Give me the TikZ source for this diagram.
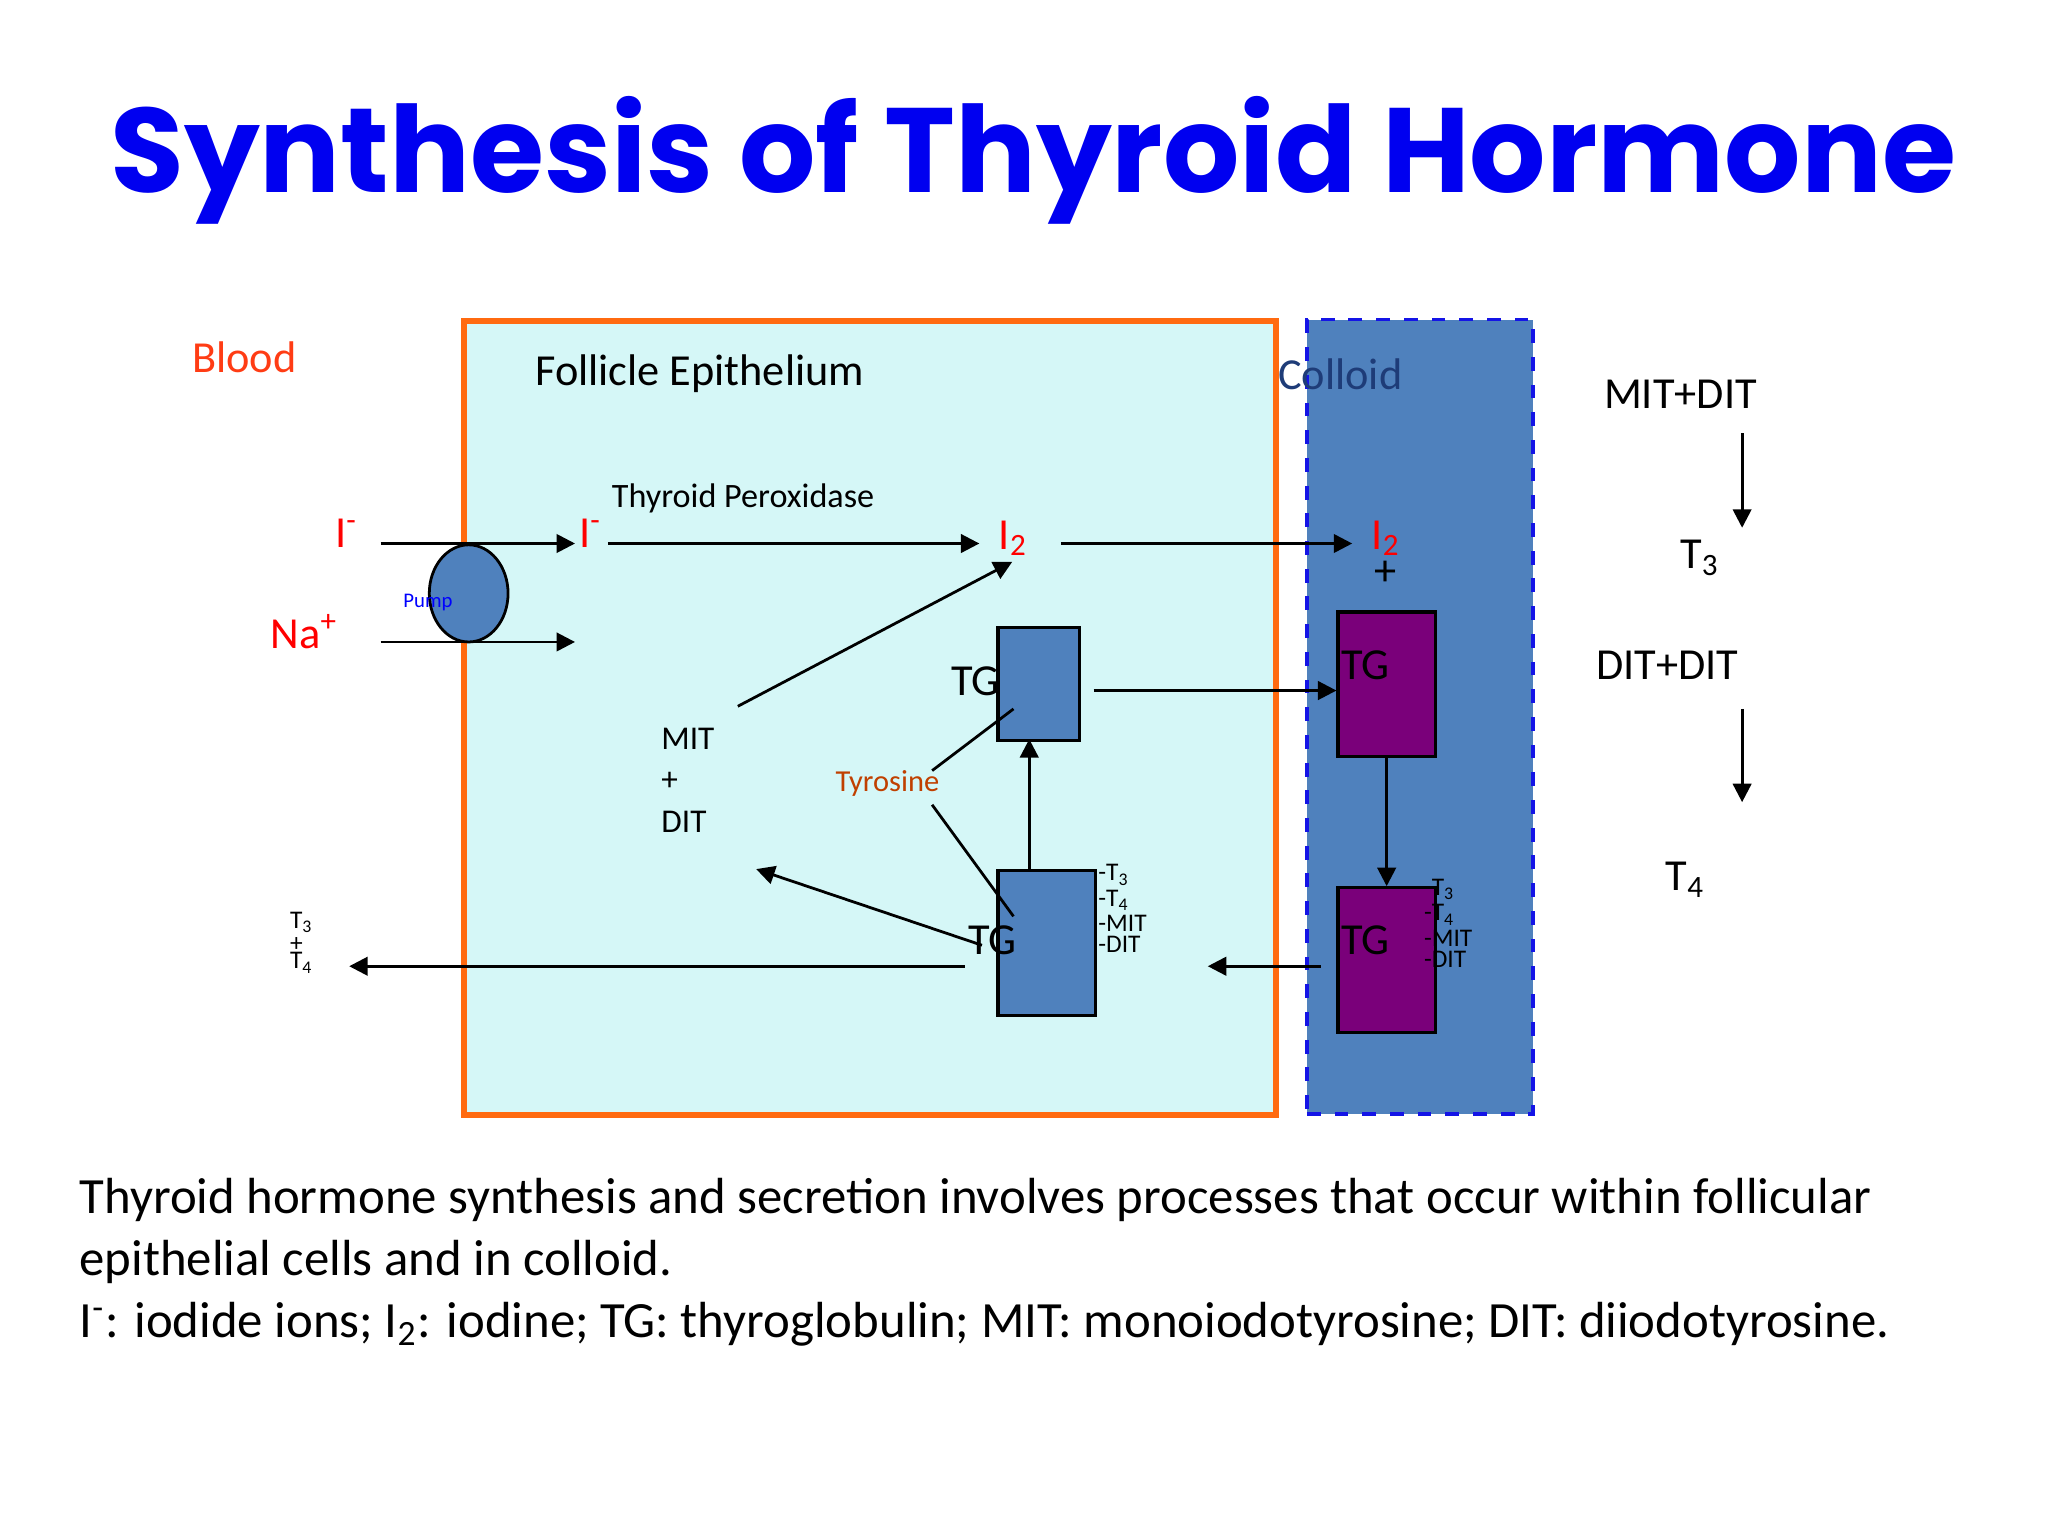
\documentclass[tikz,border=0pt]{standalone}
\usepackage{fontspec}
\setmainfont{Carlito}
\newfontfamily\titlefont{Poppins}
\usetikzlibrary{arrows.meta}
\begin{document}
\begin{tikzpicture}[x=0.01cm,y=-0.01cm,
  lbl/.style={inner sep=0pt,font=\fontsize{9.6}{11}\selectfont},
  red/.style={lbl,text=red},
  arr/.style={-{Triangle[length=4pt,width=4pt]},line width=0.6pt},
  ln/.style={line width=0.6pt},
  bbox/.style={draw,line width=0.7pt,fill={rgb,255:red,79;green,129;blue,189},anchor=north west,inner sep=0pt},
  pbox/.style={draw,line width=0.7pt,fill={rgb,255:red,122;green,0;blue,122},anchor=north west,inner sep=0pt},
  tiny/.style={inner sep=0pt,align=left,font=\fontsize{5.5}{3.2}\selectfont}]
\useasboundingbox (0,0) rectangle (1560,1170);
\fill[white] (0,0) rectangle (1560,1170);
\node[inner sep=0pt,font=\titlefont\bfseries\fontsize{26}{30}\selectfont,text={rgb,255:red,0;green,0;blue,240}] (title) at (787,122) {Synthesis of Thyroid Hormone};
% boxes
\node[draw={rgb,255:red,255;green,106;blue,16},line width=1.3pt,fill={rgb,255:red,213;green,247;blue,247},minimum width=6.18cm,minimum height=6.05cm,anchor=north west,inner sep=0pt] (fol) at (351,242) {};
\node[draw={rgb,255:red,20;green,20;blue,230},dashed,line width=0.8pt,fill={rgb,255:red,79;green,129;blue,189},minimum width=1.72cm,minimum height=6.05cm,anchor=north west,inner sep=0pt] (col) at (994,242) {};
\node[lbl,text={rgb,255:red,255;green,60;blue,20}] (blood) at (186,272) {Blood};
\node[lbl] (fe) at (533,285) {Follicle Epithelium};
\node[lbl,text={rgb,255:red,30;green,60;blue,120}] (colt) at (1021,285) {Colloid};
\node[lbl,font=\fontsize{7.4}{8}\selectfont] (tpo) at (566,380) {Thyroid Peroxidase};
% pump
\draw[line width=0.6pt,fill={rgb,255:red,79;green,129;blue,189}] (357,452) ellipse (30 and 37);
\node[inner sep=0pt,text=blue,font=\fontsize{4.5}{5}\selectfont] (pump) at (326,459) {Pump};
% iodide
\node[red] (i1) at (264,406) {I\textsuperscript{-}};
\node[red] (na) at (232,481) {Na\textsuperscript{+}};
\node[red] (i2) at (450,406) {I\textsuperscript{-}};
\node[red] (j1) at (772,410) {I\textsubscript{2}};
\node[red] (j2) at (1056,410) {I\textsubscript{2}};
\node[lbl] (plus) at (1055,437) {+};
\coordinate (a1) at (290,414); \coordinate (a2) at (438,414);
\draw[arr] (a1) -- (a2);
\coordinate (n1) at (290,489); \coordinate (n2) at (438,489);
\draw[arr] (n1) -- (n2);
\coordinate (b1) at (463,414); \coordinate (b2) at (746,414);
\draw[arr] (b1) -- (b2);
\coordinate (c1) at (808,414); \coordinate (c2) at (1030,414);
\draw[arr] (c1) -- (c2);
% MIT DIT
\node[lbl,font=\fontsize{7.2}{8}\selectfont] (mit) at (524,563) {MIT};
\node[lbl,font=\fontsize{7.2}{8}\selectfont] (mp) at (510,595) {+};
\node[lbl,font=\fontsize{7.2}{8}\selectfont] (dit) at (521,626) {DIT};
\coordinate (d1) at (562,538); \coordinate (d2) at (771,428);
\draw[arr] (d1) -- (d2);
% TG boxes
\node[bbox,minimum width=0.62cm,minimum height=0.86cm] (tg1) at (759,477) {};
\node[lbl] (tg1l) at (743,519) {TG};
\node[bbox,minimum width=0.74cm,minimum height=1.1cm] (tg2) at (759,662) {};
\node[lbl] (tg2l) at (756,716) {TG};
\node[tiny,anchor=west] (tg2s) at (836,692) {-T\textsubscript{3}\\-T\textsubscript{4}\\-MIT\\-DIT};
\node[lbl,font=\fontsize{6.6}{8}\selectfont,text={rgb,255:red,192;green,64;blue,0}] (tyr) at (676,597) {Tyrosine};
\coordinate (t1) at (710,587); \coordinate (t2) at (772,540);
\draw[ln] (t1) -- (t2);
\coordinate (t3) at (710,613); \coordinate (t4) at (772,698);
\draw[ln] (t3) -- (t4);
\coordinate (u1) at (784,662); \coordinate (u2) at (784,563);
\draw[arr] (u1) -- (u2);
\coordinate (e1) at (748,720); \coordinate (e2) at (576,662);
\draw[arr] (e1) -- (e2);
\coordinate (f1) at (735,736); \coordinate (f2) at (266,736);
\draw[arr] (f1) -- (f2);
\node[tiny,font=\fontsize{5.5}{3.8}\selectfont] (t34) at (230,718) {T\textsubscript{3}\\+\\T\textsubscript{4}};
% colloid boxes
\node[pbox,minimum width=0.74cm,minimum height=1.1cm] (pg1) at (1018,465) {};
\node[lbl] (pg1l) at (1040,507) {TG};
\node[pbox,minimum width=0.74cm,minimum height=1.1cm] (pg2) at (1018,675) {};
\node[lbl] (pg2l) at (1040,716) {TG};
\node[tiny,anchor=west] (pg2s) at (1084,703) {-T\textsubscript{3}\\-T\textsubscript{4}\\-MIT\\-DIT};
\coordinate (g1) at (833,526);
\draw[arr] (g1) -- (pg1.west |- g1);
\draw[arr] (pg1.south) -- (pg2.north);
\coordinate (h1) at (1006,736); \coordinate (h2) at (920,736);
\draw[arr] (h1) -- (h2);
% right side
\node[lbl] (md) at (1280,300) {MIT+DIT};
\node[lbl] (t3r) at (1295,425) {T\textsubscript{3}};
\node[lbl] (dd) at (1270,507) {DIT+DIT};
\node[lbl] (t4r) at (1284,670) {T\textsubscript{4}};
\coordinate (r1) at (1327,330); \coordinate (r2) at (1327,402);
\draw[arr] (r1) -- (r2);
\coordinate (r3) at (1327,540); \coordinate (r4) at (1327,611);
\draw[arr] (r3) -- (r4);
% caption
\node[inner sep=0pt,anchor=north west,align=left,font=\fontsize{11}{13.4}\selectfont] (cap) at (60,897) {Thyroid hormone synthesis and secretion involves processes that occur within follicular\\epithelial cells and in colloid.\\I\textsuperscript{-}: iodide ions; I\textsubscript{2}: iodine; TG: thyroglobulin; MIT: monoiodotyrosine; DIT: diiodotyrosine.};
\end{tikzpicture}
\end{document}
